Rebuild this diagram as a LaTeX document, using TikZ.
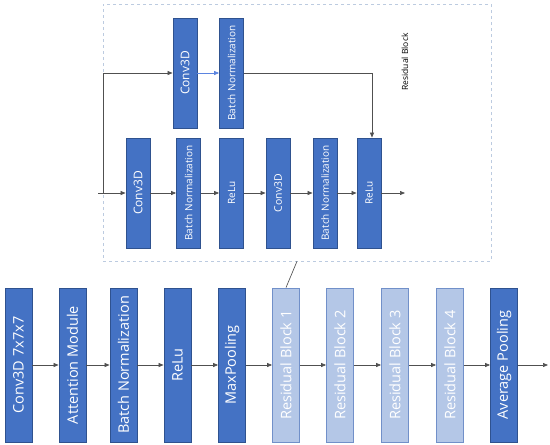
\documentclass[tikz,border=0pt]{standalone}
\usepackage{fontspec}
\setmainfont{Open Sans}
\usetikzlibrary{arrows.meta, positioning, calc}
\definecolor{blkfill}{HTML}{4472C4}
\definecolor{blkline}{HTML}{2F528F}
\definecolor{resfill}{HTML}{B4C7E7}
\definecolor{resline}{HTML}{7190C9}
\definecolor{wireline}{HTML}{505050}
\definecolor{skipline}{HTML}{5B84E0}
\definecolor{frameline}{HTML}{BCCBE0}
\tikzset{
  blk/.style    = {rectangle, draw=blkline, fill=blkfill, line width=0.8pt,
                   text=white, rotate=90, inner sep=0pt, font=\fontsize{14.5}{16}\selectfont,
                   minimum width=154pt, minimum height=27pt},
  resblk/.style = {blk, draw=resline, fill=resfill},
  subblk/.style = {blk, font=\fontsize{10}{12}\selectfont,
                   minimum width=110pt, minimum height=24pt},
  flow/.style   = {-{Triangle[length=5pt, width=4pt]}, draw=wireline, line width=0.65pt},
  skipflow/.style = {flow, draw=skipline, -{Triangle[length=5pt, width=4pt, fill=skipline]}},
  wire/.style   = {draw=wireline, line width=0.65pt},
  frame/.style  = {rectangle, draw=frameline, dashed, line width=0.6pt,
                   minimum width=388pt, minimum height=257pt, inner sep=0pt},
}
\begin{document}
\begin{tikzpicture}[x=1pt, y=-1pt]
  \useasboundingbox (0,0) rectangle (550,445);

  % main network
  \node[blk]    (conv)  at (18.5,365) {Conv3D 7x7x7};
  \node[blk]    (attn)  at (72.5,365) {Attention Module};
  \node[blk]    (bn)    at (123.5,365) {Batch Normalization};
  \node[blk]    (relu)  at (177.5,365) {ReLu};
  \node[blk]    (pool)  at (232,365) {MaxPooling};
  \node[resblk] (rb1)   at (286,365) {Residual Block 1};
  \node[resblk] (rb2)   at (340,365) {Residual Block 2};
  \node[resblk] (rb3)   at (395,365) {Residual Block 3};
  \node[resblk] (rb4)   at (450,365) {Residual Block 4};
  \node[blk]    (avg)   at (504,365) {Average Pooling};
  \coordinate   (out)   at (548,365);

  \draw[flow] (conv) -- (attn);
  \draw[flow] (attn) -- (bn);
  \draw[flow] (bn) -- (relu);
  \draw[flow] (relu) -- (pool);
  \draw[flow] (pool) -- (rb1);
  \draw[flow] (rb1) -- (rb2);
  \draw[flow] (rb2) -- (rb3);
  \draw[flow] (rb3) -- (rb4);
  \draw[flow] (rb4) -- (avg);
  \draw[flow] (avg) -- (out);

  % residual block detail
  \node[frame] (resframe) at (297,132.5) {};
  \node[rotate=90, font=\fontsize{8.5}{10}\selectfont] (restitle) at (405,62) {Residual Block};

  \node[subblk, font=\fontsize{12}{14}\selectfont] (sconv) at (185,73) {Conv3D};
  \node[subblk] (sbn)    at (231.5,73) {Batch Normalization};

  \node[subblk, font=\fontsize{12}{14}\selectfont] (rconv1) at (138,193) {Conv3D};
  \node[subblk] (rbn1)   at (188.5,193) {Batch Normalization};
  \node[subblk] (rrelu1) at (231.5,193) {ReLu};
  \node[subblk, font=\fontsize{10.5}{12}\selectfont] (rconv2) at (278,193) {Conv3D};
  \node[subblk] (rbn2)   at (325,193) {Batch Normalization};
  \node[subblk] (rrelu2) at (369,193) {ReLu};

  \coordinate (rin)   at (98,193);
  \coordinate (split) at (103,193);
  \coordinate (merge) at (372,73);
  \coordinate (rout)  at (405,193);

  \draw[flow] (rin) -- (rconv1);
  \draw[flow] (rconv1) -- (rbn1);
  \draw[flow] (rbn1) -- (rrelu1);
  \draw[flow] (rrelu1) -- (rconv2);
  \draw[flow] (rconv2) -- (rbn2);
  \draw[flow] (rbn2) -- (rrelu2);
  \draw[flow] (rrelu2) -- (rout);

  \draw[flow] (split) |- (sconv);
  \draw[skipflow] (sconv) -- (sbn);
  \draw[flow] (sbn) -- (merge) -- (merge |- rrelu2.east);

  \draw[wire] (rb1.east) -- (resframe.south);
\end{tikzpicture}
\end{document}
